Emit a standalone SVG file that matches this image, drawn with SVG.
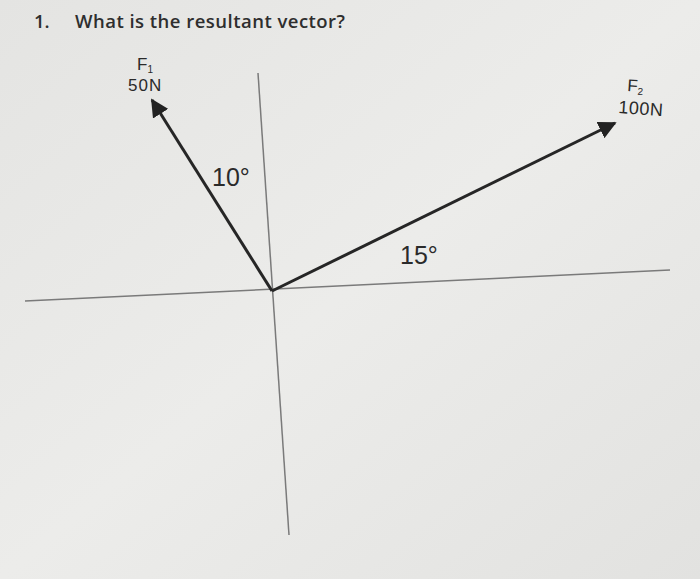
<svg xmlns="http://www.w3.org/2000/svg" width="700" height="579" viewBox="0 0 700 579">
<defs>
<linearGradient id="bg" x1="0" y1="0" x2="1" y2="1">
<stop offset="0" stop-color="#e4e4e2"/>
<stop offset="0.5" stop-color="#ececea"/>
<stop offset="1" stop-color="#e2e2e0"/>
</linearGradient>
<marker id="ah" viewBox="0 0 10 10" refX="9" refY="5" markerWidth="6" markerHeight="6" orient="auto" markerUnits="strokeWidth">
<path d="M0,0 L10,5 L0,10 z" fill="#222"/>
</marker>
<style>
.axis{stroke:#7a7a7a;stroke-width:1.5;fill:none}
.vec{stroke:#262626;stroke-width:3;fill:none}
.lbl{font-family:"Liberation Sans",Arial,sans-serif;fill:#2a2a2a}
.title{font-family:"Open Sans","Liberation Sans",sans-serif;font-weight:600;fill:#2e2e2e;font-size:18.5px}
</style>
</defs>
<rect width="700" height="579" fill="url(#bg)"/>
<g id="title">
<text class="title" x="34" y="28">1.</text>
<text class="title" x="75" y="28" textLength="270">What is the resultant vector?</text>
</g>
<g id="axes">
<line class="axis" x1="25" y1="301" x2="670" y2="270"/>
<line class="axis" x1="258" y1="73" x2="289" y2="535"/>
</g>
<g id="connectors">
<line class="vec" x1="272" y1="291" x2="152" y2="100" marker-end="url(#ah)"/>
<line class="vec" x1="272" y1="291" x2="615" y2="123" marker-end="url(#ah)"/>
</g>
<g id="F1">
<text class="lbl" x="137" y="70" font-size="17">F<tspan font-size="10" dy="3">1</tspan></text>
<text class="lbl" x="128" y="91" font-size="17" letter-spacing="1">50N</text>
</g>
<g id="F2">
<text class="lbl" x="627" y="91" font-size="17" transform="rotate(4 627 91)">F<tspan font-size="10" dy="3">2</tspan></text>
<text class="lbl" x="618" y="113" font-size="18" letter-spacing="0.5" transform="rotate(4 618 113)">100N</text>
</g>
<g id="angle10">
<text class="lbl" x="212" y="186" font-size="25">10°</text>
</g>
<g id="angle15">
<text class="lbl" x="400" y="264" font-size="25">15°</text>
</g>
</svg>
